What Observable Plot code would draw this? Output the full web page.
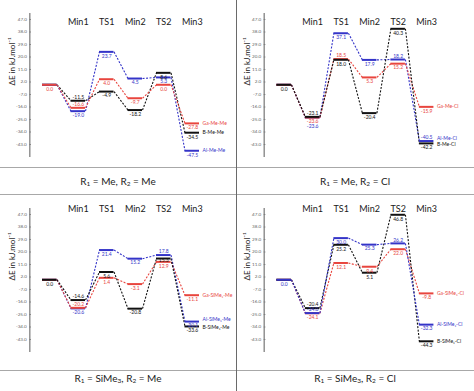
<!DOCTYPE html>
<html><head><meta charset="utf-8">
<script src="https://cdn.jsdelivr.net/npm/d3@7"></script>
<script src="https://cdn.jsdelivr.net/npm/@observablehq/plot@0.6"></script>
<style>
body{margin:0;background:#fff;}
#root{position:relative;width:474px;height:391px;overflow:hidden;font-family:Lato,"Open Sans",sans-serif;}
.cell{position:absolute;}
.cell svg{overflow:visible;}
.hline{position:absolute;left:0;width:474px;height:1px;background:#a8a8a8;}
.vline{position:absolute;left:236px;top:0;width:1px;height:391px;background:#6a6a6a;}
.cap{position:absolute;width:236px;text-align:center;font-size:10px;color:#222;line-height:12px;}
.cap sub{font-size:6.5px;vertical-align:-1px;}
</style></head><body><div id="root"></div>
<script>
// ---- data ----
const stages = ["Min1", "TS1", "Min2", "TS2", "Min3"];
const yTicks = [47, 38, 29, 20, 11, 2, -7, -16, -25, -34, -43];
const yTitle = "ΔE in kJ.mol⁻¹";
const captions = ["R<sub>1</sub> = Me, R<sub>2</sub> = Me", "R<sub>1</sub> = Me, R<sub>2</sub> = Cl",
                  "R<sub>1</sub> = SiMe<sub>3</sub>, R<sub>2</sub> = Me", "R<sub>1</sub> = SiMe<sub>3</sub>, R<sub>2</sub> = Cl"];

// Panel 1: R1 = Me, R2 = Me
const p1Names = {B: "B-Me-Me", Al: "Al-Me-Me", Ga: "Ga-Me-Me"};
const p1B  = [0.0, -11.5, -4.9, -18.2, 8.6, -34.5];
const p1Al = [0.0, -19.0, 23.7, 4.5, 5.3, -47.5];
const p1Ga = [0.0, -16.6, 4.0, -9.7, 0.0, -27.8];

// Panel 2: R1 = Me, R2 = Cl
const p2Names = {B: "B-Me-Cl", Al: "Al-Me-Cl", Ga: "Ga-Me-Cl"};
const p2B  = [0.0, -23.1, 18.0, -20.4, 40.3, -42.2];
const p2Al = [0.0, -23.6, 37.1, 17.9, 18.2, -40.5];
const p2Ga = [0.0, -23.6, 18.5, 5.3, 15.2, -15.9];

// Panel 3: R1 = SiMe3, R2 = Me
const p3Names = {B: "B-SiMe₃-Me", Al: "Al-SiMe₃-Me", Ga: "Ga-SiMe₃-Me"};
const p3B  = [0.0, -14.6, 5.6, -20.8, 15.3, -33.6];
const p3Al = [0.0, -20.6, 21.4, 15.2, 17.8, -30.1];
const p3Ga = [0.0, -20.2, 1.4, -3.1, 12.9, -11.1];

// Panel 4: R1 = SiMe3, R2 = Cl
const p4Names = {B: "B-SiMe₃-Cl", Al: "Al-SiMe₃-Cl", Ga: "Ga-SiMe₃-Cl"};
const p4B  = [0.0, -20.4, 25.2, 5.1, 46.8, -44.3];
const p4Al = [0.0, -24.0, 30.0, 25.3, 26.2, -32.3];
const p4Ga = [0.0, -24.1, 12.1, 9.4, 22.0, -9.8];

// ---- label placement (a = above, m = just below, b = below, c = further below, "" = none) ----
const panels = [
  {values: {B: p1B, Al: p1Al, Ga: p1Ga}, names: p1Names, order: ["B", "Al", "Ga"],
   place: {B: ["", "a", "b", "b", "b", "b"], Al: ["", "b", "b", "b", "b", "b"], Ga: ["b", "a", "b", "b", "b", "b"]},
   nameDy: {B: 0, Al: 0, Ga: 0}, left: 0, top: 0, width: 236, height: 167, ml: 29.3, headerDy: 4.7},
  {values: {B: p2B, Al: p2Al, Ga: p2Ga}, names: p2Names, order: ["Al", "Ga", "B"],
   place: {B: ["b", "a", "b", "b", "b", "b"], Al: ["", "c", "b", "b", "a", "a"], Ga: ["", "b", "a", "b", "b", "b"]},
   nameDy: {B: 1.5, Al: -2.5, Ga: 0}, left: 237, top: 0, width: 237, height: 167, ml: 26.7, headerDy: 4.7},
  {values: {B: p3B, Al: p3Al, Ga: p3Ga}, names: p3Names, order: ["Al", "Ga", "B"],
   place: {B: ["b", "a", "b", "b", "m", "b"], Al: ["", "b", "b", "b", "a", "b"], Ga: ["", "a", "b", "b", "b", "b"]},
   nameDy: {B: 1, Al: -2, Ga: 0}, left: 0, top: 195, width: 236, height: 175, ml: 29.3, headerDy: -3},
  {values: {B: p4B, Al: p4Al, Ga: p4Ga}, names: p4Names, order: ["Ga", "B", "Al"],
   place: {B: ["", "a", "b", "b", "b", "b"], Al: ["b", "a", "b", "b", "a", "b"], Ga: ["", "b", "b", "b", "b", "b"]},
   nameDy: {B: 0, Al: 0, Ga: 0}, left: 237, top: 195, width: 237, height: 175, ml: 26.7, headerDy: -3}
];

const colorDomain = ["B", "Al", "Ga"];
const colorRange = ["#111111", "#3434c8", "#e8453e"];

const root = document.getElementById("root");
const hw = 0.255, spacing = 28.5, x0 = -0.7, x1end = 6.2;
const labelDy = {a: -3.3, m: 1.6, b: 4.2, c: 8.9};

function makePanel(p) {
  const levels = [], links = [], labels = [];
  p.order.forEach(k => {
    const v = p.values[k];
    v.forEach((val, i) => {
      levels.push({key: k, x1: i - hw, x2: i + hw, y: val});
      if (i < v.length - 1) links.push({key: k, x1: i + hw, y1: val, x2: i + 1 - hw, y2: v[i + 1]});
      if (p.place[k][i]) labels.push({key: k, x: i, y: val, place: p.place[k][i], text: val.toFixed(1)});
    });
  });
  const nameMarks = p.order.map(k => Plot.text([{key: k, x: 5 + hw, y: p.values[k][5], text: p.names[k]}],
    {x: "x", y: "y", text: "text", fill: "key", fontSize: 5, textAnchor: "start", dx: 3, dy: p.nameDy[k]}));
  const labelMarks = Object.keys(labelDy).map(pl => Plot.text(labels,
    {filter: d => d.place === pl, x: "x", y: "y", text: "text", fill: "key", fontSize: 5, dy: labelDy[pl]}));
  const rangeR = p.ml + (x1end - x0) * spacing;
  return Plot.plot({
    width: p.width, height: p.height,
    marginLeft: p.ml, marginRight: p.width - rangeR, marginTop: 13, marginBottom: p.height - 157,
    x: {domain: [x0, x1end], axis: null},
    y: {domain: [-52.36, 51.32], axis: null},
    color: {domain: colorDomain, range: colorRange},
    style: {fontFamily: "Lato, 'Open Sans', sans-serif", background: "transparent", overflow: "visible"},
    marks: [
      Plot.ruleX([x0], {stroke: "#8a8a8a", strokeWidth: 1.4}),
      Plot.ruleY(yTicks, {x1: x0, x2: x0 + 0.06, stroke: "#777", strokeWidth: 0.8}),
      Plot.axisY({ticks: yTicks, tickFormat: d => d.toFixed(1), tickSize: 0, tickPadding: 3, fontSize: 4.6, color: "#666", label: null}),
      Plot.text([yTitle], {frameAnchor: "left", rotate: -90, dx: -17, fontSize: 8, fill: "#222"}),
      Plot.text(stages, {x: (d, i) => i + 1, frameAnchor: "top", dy: p.headerDy, fontSize: 9, fill: "#1a1a1a"}),
      Plot.link(links, {x1: "x1", y1: "y1", x2: "x2", y2: "y2", stroke: "key", strokeWidth: 1.1, strokeDasharray: "2,1.5"}),
      Plot.ruleY(levels, {y: "y", x1: "x1", x2: "x2", stroke: "key", strokeWidth: 2}),
      ...labelMarks,
      ...nameMarks
    ]
  });
}

panels.forEach(p => {
  const div = document.createElement("div");
  div.className = "cell";
  div.style.left = p.left + "px";
  div.style.top = p.top + "px";
  div.appendChild(makePanel(p));
  root.appendChild(div);
});

[167, 194, 370].forEach(y => {
  const l = document.createElement("div");
  l.className = "hline"; l.style.top = y + "px"; root.appendChild(l);
});
const vl = document.createElement("div"); vl.className = "vline"; root.appendChild(vl);

[[0, 175], [237, 175], [0, 372], [237, 372]].forEach(([x, y], i) => {
  const c = document.createElement("div");
  c.className = "cap"; c.style.left = x + "px"; c.style.top = y + "px";
  c.innerHTML = captions[i];
  root.appendChild(c);
});
</script></body></html>
